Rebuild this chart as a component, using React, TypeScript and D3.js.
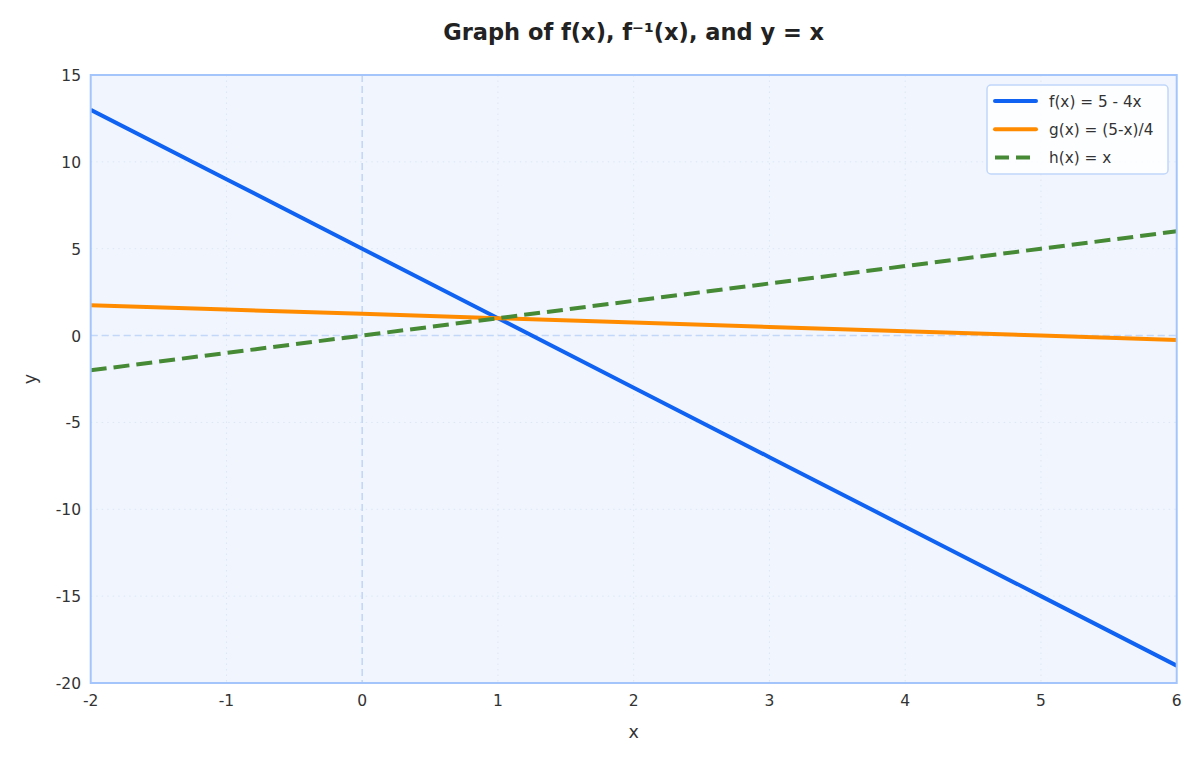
import React from "react";
import * as d3 from "d3";

const xDomain = [-2, 6];
const yDomain = [-20, 15];
const xTicks = [-2, -1, 0, 1, 2, 3, 4, 5, 6];
const yTicks = [-20, -15, -10, -5, 0, 5, 10, 15];

const xSamples = [-2, -1, 0, 1, 2, 3, 4, 5, 6];
const fValues = [13, 9, 5, 1, -3, -7, -11, -15, -19];
const gValues = [1.75, 1.5, 1.25, 1, 0.75, 0.5, 0.25, 0, -0.25];
const hValues = [-2, -1, 0, 1, 2, 3, 4, 5, 6];

const seriesNames = ["f(x) = 5 - 4x", "g(x) = (5-x)/4", "h(x) = x"];
const seriesColors = ["#0f62f2", "#ff8c00", "#468a36"];
const seriesDash = [null, null, "16,7"];

const W = 1200;
const H = 760;
const M = { left: 90.7, right: 1176.7, top: 75, bottom: 683 };
const FONT = "'DejaVu Sans', 'Noto Sans', sans-serif";

export default function App() {
  const x = d3.scaleLinear().domain(xDomain).range([M.left, M.right]);
  const y = d3.scaleLinear().domain(yDomain).range([M.bottom, M.top]);
  const line = d3
    .line<[number, number]>()
    .x((d) => x(d[0]))
    .y((d) => y(d[1]));
  const series = [fValues, gValues, hValues].map((vals) =>
    xSamples.map((xv, i) => [xv, vals[i]] as [number, number])
  );

  const lx = 987;
  const ly = 85;
  return (
    <svg
      width={W}
      height={H}
      style={{ position: "absolute", left: 0, top: 0, background: "#fff" }}
    >
      <defs>
        <clipPath id="plot">
          <rect x={M.left} y={M.top} width={M.right - M.left} height={M.bottom - M.top} />
        </clipPath>
      </defs>
      <rect x={M.left} y={M.top} width={M.right - M.left} height={M.bottom - M.top} fill="#f1f6fe" />
      {/* grid */}
      {xTicks.map((t) => (
        <line key={"gx" + t} x1={x(t)} x2={x(t)} y1={M.top} y2={M.bottom} stroke="#dde6f4" strokeWidth={1} strokeDasharray="1.5,4" />
      ))}
      {yTicks.map((t) => (
        <line key={"gy" + t} x1={M.left} x2={M.right} y1={y(t)} y2={y(t)} stroke="#dde6f4" strokeWidth={1} strokeDasharray="1.5,4" />
      ))}
      {/* zero lines */}
      <line x1={x(0)} x2={x(0)} y1={M.top} y2={M.bottom} stroke="#c3d8f8" strokeWidth={1.6} strokeDasharray="7,4" />
      <line x1={M.left} x2={M.right} y1={y(0)} y2={y(0)} stroke="#c3d8f8" strokeWidth={1.6} strokeDasharray="7,4" />
      {/* series */}
      <g clipPath="url(#plot)">
        {series.map((s, i) => (
          <path
            key={i}
            d={line(s) || ""}
            fill="none"
            stroke={seriesColors[i]}
            strokeWidth={4}
            strokeDasharray={seriesDash[i] || undefined}
          />
        ))}
      </g>
      {/* border */}
      <rect x={M.left} y={M.top} width={M.right - M.left} height={M.bottom - M.top} fill="none" stroke="#a3c5fb" strokeWidth={2} />
      {/* ticks */}
      {xTicks.map((t) => (
        <text key={"tx" + t} x={x(t)} y={706} textAnchor="middle" fontFamily={FONT} fontSize={15.5} fill="#333">
          {String(t)}
        </text>
      ))}
      {yTicks.map((t) => (
        <text key={"ty" + t} x={81} y={y(t) + 6} textAnchor="end" fontFamily={FONT} fontSize={15.5} fill="#333">
          {String(t)}
        </text>
      ))}
      {/* axis labels */}
      <text x={(M.left + M.right) / 2} y={738} textAnchor="middle" fontFamily={FONT} fontSize={17.5} fill="#333">
        x
      </text>
      <text transform={`translate(36,${(M.top + M.bottom) / 2}) rotate(-90)`} textAnchor="middle" fontFamily={FONT} fontSize={17.5} fill="#333">
        y
      </text>
      {/* title */}
      <text x={(M.left + M.right) / 2} y={40} textAnchor="middle" fontFamily={FONT} fontSize={22.5} fontWeight={700} fill="#222">
        Graph of f(x), f⁻¹(x), and y = x
      </text>
      {/* legend */}
      <rect x={lx} y={ly} width={181} height={89} rx={4} fill="#ffffff" fillOpacity={0.85} stroke="#c0d6fa" strokeWidth={1.5} />
      {seriesNames.map((name, i) => {
        const yy = ly + 16 + i * 28.3;
        return (
          <g key={name}>
            <line
              x1={lx + 8}
              x2={lx + 49}
              y1={yy}
              y2={yy}
              stroke={seriesColors[i]}
              strokeWidth={4}
              strokeLinecap={seriesDash[i] ? "butt" : "round"}
              strokeDasharray={seriesDash[i] ? "14,7" : undefined}
            />
            <text x={lx + 62} y={yy + 5.5} fontFamily={FONT} fontSize={15.3} fill="#333">
              {name}
            </text>
          </g>
        );
      })}
    </svg>
  );
}
